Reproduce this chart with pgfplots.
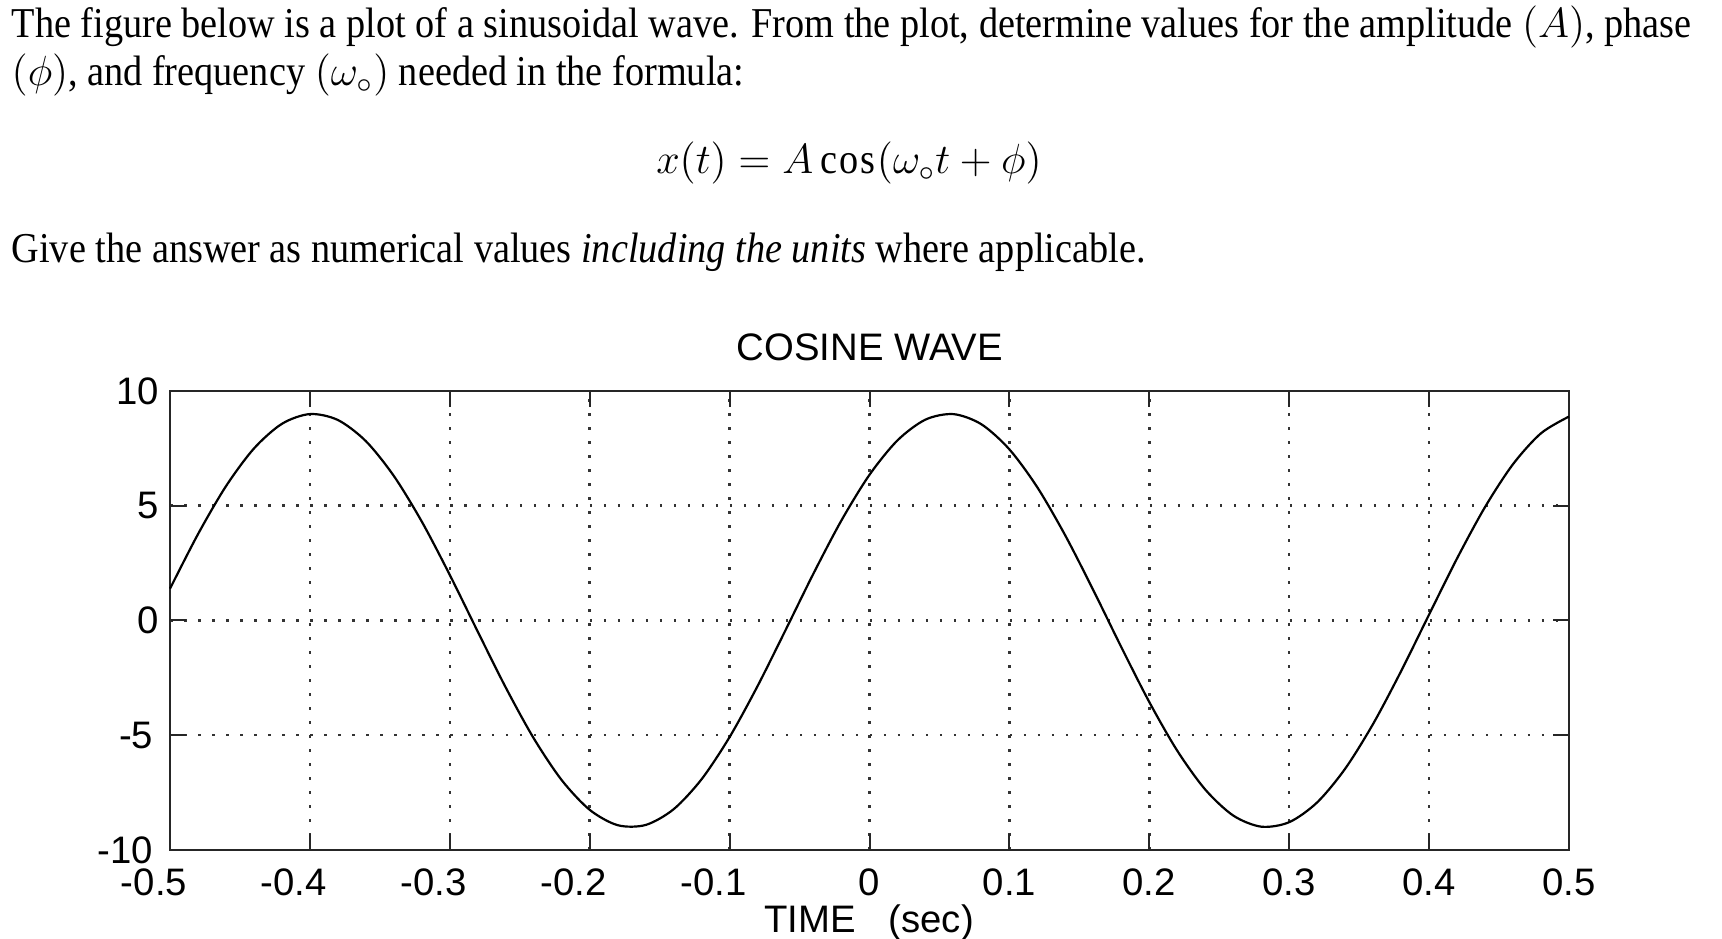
\documentclass[border=0pt]{standalone}
\usepackage{pgfplots}
\pgfplotsset{compat=1.18}
\usepackage{fontspec}
\setmainfont[FakeStretch=0.9]{Liberation Serif}
\newfontfamily\sansf{Liberation Sans}
\newcommand{\xs}{\rule{3.2mm}{0pt}}
\newcommand{\ys}{\rule{0.6mm}{0pt}}
\begin{document}
\begin{tikzpicture}
\useasboundingbox (0,0) rectangle (172.2mm,-93.9mm);
\begin{axis}[
  at={(17.0mm,-85.0mm)}, anchor=south west,
  scale only axis, width=139.9mm, height=45.9mm,
  xmin=-0.5, xmax=0.5, ymin=-10, ymax=10,
  xtick={-0.5,-0.4,-0.3,-0.2,-0.1,0,0.1,0.2,0.3,0.4,0.5},
  xticklabels={{-0.5\xs},{-0.4\xs},{-0.3\xs},{-0.2\xs},{-0.1\xs},0,0.1,0.2,0.3,0.4,0.5},
  ytick={-10,-5,0,5,10},
  yticklabels={{-10\ys},{-5\ys},0,5,10},
  tick pos=both, tick align=inside, major tick length=1.6mm,
  tick style={line width=0.2mm, black!85},
  axis line style={line width=0.2mm, black!85},
  grid=major,
  major grid style={dash pattern=on 0.25mm off 1.15mm, line width=0.25mm, black!80},
  /pgf/number format/assume math mode=true,
  ticklabel style={font=\fontsize{10.9}{12}\sansf},
  xticklabel style={anchor=north, inner sep=0pt, yshift=-1.8mm},
  yticklabel style={anchor=east, inner sep=0pt, xshift=-1.0mm},
  clip=false,
]
\addplot[black, line width=0.22mm, smooth] coordinates {
(-0.50,1.386) (-0.48,3.761) (-0.46,5.851) (-0.44,7.494) (-0.42,8.570)
(-0.40,8.995) (-0.38,8.736) (-0.36,7.815) (-0.34,6.298) (-0.32,4.307)
(-0.30,1.985) (-0.28,-0.487) (-0.26,-2.921) (-0.24,-5.134) (-0.22,-6.956)
(-0.20,-8.250) (-0.18,-8.919) (-0.16,-8.909) (-0.14,-8.223) (-0.12,-6.914)
(-0.10,-5.078) (-0.08,-2.856) (-0.06,-0.418) (-0.04,2.052) (-0.02,4.367)
(0.00,6.349) (0.02,7.849) (0.04,8.753) (0.06,8.992) (0.08,8.549)
(0.10,7.456) (0.12,5.799) (0.14,3.698) (0.16,1.318) (0.18,-1.162)
(0.20,-3.554) (0.22,-5.676) (0.24,-7.367) (0.26,-8.499) (0.28,-8.984)
(0.30,-8.788) (0.32,-7.925) (0.34,-6.458) (0.36,-4.503) (0.38,-2.205)
(0.40,0.261) (0.42,2.707) (0.44,4.946) (0.46,6.813) (0.48,8.159)
(0.50,8.886)
};
\end{axis}
\begin{scope}[every node/.style={inner sep=0pt}]
\fontsize{12.1}{14}\selectfont
\node[anchor=base west] at (1.1mm,-3.8mm) {The figure below is a plot of a sinusoidal wave. From the plot, determine values for the amplitude $(A)$, phase};
\node[anchor=base west] at (1.1mm,-8.6mm) {$(\phi)$, and frequency $(\omega_\circ)$ needed in the formula:};
\node[anchor=base] at (84.9mm,-17.4mm) {$x(t) = A\cos(\omega_\circ t + \phi)$};
\node[anchor=base west] at (1.1mm,-26.3mm) {Give the answer as numerical values \emph{including the units} where applicable.};
\node[anchor=base, font=\fontsize{10.9}{12}\sansf] at (87.0mm,-36.1mm) {COSINE WAVE};
\node[anchor=base, font=\fontsize{10.9}{12}\sansf] at (86.9mm,-93.3mm) {TIME\rule{3.3mm}{0pt}(sec)};
\end{scope}
\end{tikzpicture}
\end{document}
